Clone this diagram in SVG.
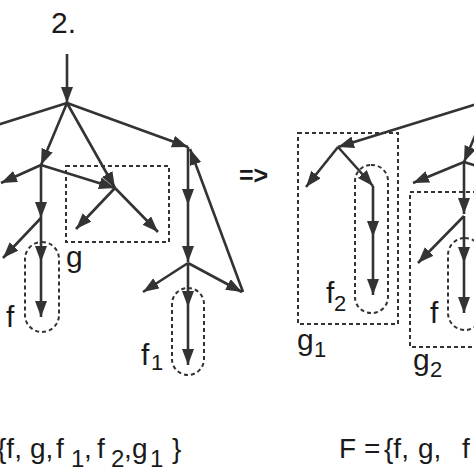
<svg xmlns="http://www.w3.org/2000/svg" width="474" height="474" viewBox="0 0 474 474">
<defs>
<marker id="ah" markerUnits="userSpaceOnUse" markerWidth="17" markerHeight="13" refX="16" refY="6" orient="auto">
<path d="M0,0 L16,6 L0,12 z" fill="#333"/>
</marker>
</defs>
<style>
.e{stroke:#333;stroke-width:2.6;fill:none;marker-end:url(#ah)}
.d{stroke:#333;stroke-width:2;fill:none;stroke-dasharray:4,3}
.t{font-family:"Liberation Sans",Arial,sans-serif;fill:#1a1a1a}
.lb{font-size:30px}
.sb{font-size:22px}
.bt{font-size:28px}
.bs{font-size:24px}
</style>
<rect width="474" height="474" fill="#fff"/>
<g id="connectors">
<line class="e" x1="67" y1="54" x2="67" y2="103"/>
<line class="e" x1="67" y1="103" x2="-25" y2="132"/>
<line class="e" x1="67" y1="103" x2="41" y2="165"/>
<line class="e" x1="67" y1="103" x2="115" y2="188"/>
<line class="e" x1="67" y1="103" x2="188" y2="147"/>
<line class="e" x1="41" y1="165" x2="1" y2="183"/>
<line class="e" x1="41" y1="165" x2="115" y2="188"/>
<line class="e" x1="41" y1="165" x2="41" y2="218"/>
<line class="e" x1="115" y1="188" x2="76" y2="229"/>
<line class="e" x1="115" y1="188" x2="158" y2="232"/>
<line class="e" x1="41" y1="218" x2="3" y2="258"/>
<line class="e" x1="41" y1="218" x2="41" y2="262"/>
<line class="e" x1="41" y1="262" x2="41" y2="317"/>
<line class="e" x1="188" y1="147" x2="188" y2="205"/>
<line class="e" x1="188" y1="205" x2="188" y2="262"/>
<line class="e" x1="243" y1="292" x2="190" y2="149"/>
<line class="e" x1="188" y1="263" x2="143" y2="292"/>
<line class="e" x1="188" y1="263" x2="242" y2="292"/>
<line class="e" x1="188" y1="263" x2="188" y2="307"/>
<line class="e" x1="188" y1="307" x2="188" y2="365"/>
<line class="e" x1="490" y1="100" x2="338" y2="147"/>
<line class="e" x1="338" y1="147" x2="306" y2="187"/>
<line class="e" x1="338" y1="147" x2="373" y2="186"/>
<line class="e" x1="373" y1="186" x2="373" y2="237"/>
<line class="e" x1="373" y1="237" x2="373" y2="295"/>
<line class="e" x1="490" y1="100" x2="464" y2="162"/>
<line class="e" x1="464" y1="162" x2="413" y2="183"/>
<line class="e" x1="464" y1="162" x2="510" y2="176"/>
<line class="e" x1="464" y1="162" x2="464" y2="214"/>
<line class="e" x1="464" y1="216" x2="418" y2="263"/>
<line class="e" x1="464" y1="216" x2="464" y2="263"/>
<line class="e" x1="464" y1="263" x2="464" y2="313"/>
</g>
<g id="g">
<rect class="d" x="66" y="166" width="103" height="76"/>
<text class="t lb" x="66" y="267">g</text>
</g>
<g id="f">
<rect class="d" x="25" y="242" width="34" height="90" rx="17"/>
<text class="t lb" x="6" y="327">f</text>
</g>
<g id="f1">
<rect class="d" x="172" y="288" width="32" height="87" rx="16"/>
<text class="t lb" x="141" y="365">f<tspan class="sb" x="151" y="370">1</tspan></text>
</g>
<g id="g1">
<rect class="d" x="298" y="133" width="100" height="191"/>
<text class="t lb" x="297" y="350">g<tspan class="sb" x="314" y="357">1</tspan></text>
</g>
<g id="f2">
<rect class="d" x="355" y="165" width="33" height="148" rx="16"/>
<text class="t lb" x="326" y="303">f<tspan class="sb" x="334" y="311">2</tspan></text>
</g>
<g id="g2">
<rect class="d" x="410" y="192" width="90" height="155"/>
<text class="t lb" x="413" y="370">g<tspan class="sb" x="430" y="377">2</tspan></text>
</g>
<g id="f-right">
<rect class="d" x="448" y="238" width="34" height="92" rx="17"/>
<text class="t lb" x="430" y="323">f</text>
</g>
<g id="labels">
<text class="t" x="51" y="33" font-size="30">2.</text>
<text class="t" x="239" y="184" font-size="25" font-weight="bold">=&gt;</text>
<text class="t bt" y="458"><tspan x="-3">{f,</tspan><tspan x="30">g,</tspan><tspan x="56">f</tspan><tspan class="bs" x="71" y="467">1</tspan><tspan x="84" y="458">,</tspan><tspan x="97">f</tspan><tspan class="bs" x="111" y="467">2</tspan><tspan x="124" y="458">,</tspan><tspan x="132">g</tspan><tspan class="bs" x="150" y="467">1</tspan><tspan x="172" y="458">}</tspan></text>
<text class="t bt" y="458"><tspan x="339">F</tspan><tspan x="364">=</tspan><tspan x="384">{f,</tspan><tspan x="418">g,</tspan><tspan x="462">f</tspan></text>
</g>
</svg>
